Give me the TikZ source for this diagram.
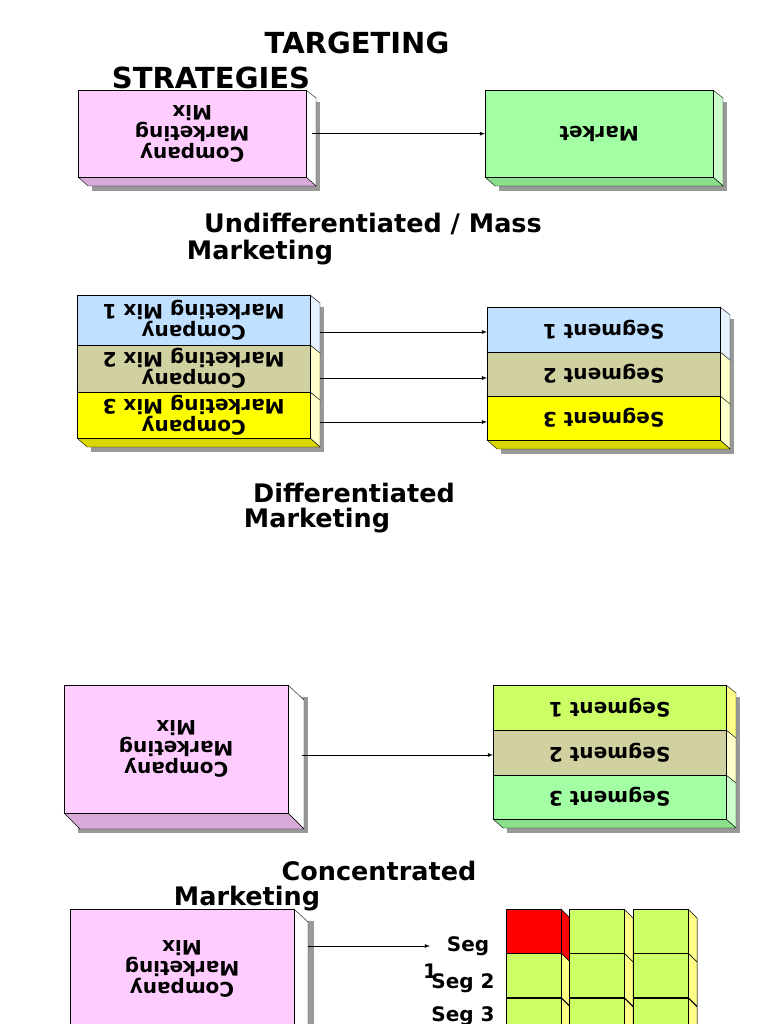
\documentclass[tikz,border=0pt]{standalone}
\usepackage{fontspec}
\setmainfont{DejaVu Sans}
\begin{document}
\begin{tikzpicture}[x=1pt,y=-1pt,
 lbl/.style={font=\bfseries\fontsize{20}{21}\selectfont,align=center,rotate=180},
 ttl/.style={font=\bfseries\fontsize{25.5}{28}\selectfont,anchor=center},
 big/.style={font=\bfseries\fontsize{29}{32}\selectfont,anchor=center},
 arr/.style={-latex,thick}]
\definecolor{pk}{HTML}{FFCCFF}\definecolor{pkd}{HTML}{D9A9D9}
\definecolor{gr}{HTML}{A3FFA3}\definecolor{grd}{HTML}{8AE08A}\definecolor{grs}{HTML}{CCFFCC}
\definecolor{bl}{HTML}{C0E0FF}\definecolor{bls}{HTML}{E6F2FF}
\definecolor{tn}{HTML}{D0D0A0}\definecolor{tns}{HTML}{FFFFCC}
\definecolor{yl}{HTML}{FFFF00}\definecolor{yld}{HTML}{D8D800}
\definecolor{lg}{HTML}{CCFF66}\definecolor{lgs}{HTML}{FFFF88}
\newcommand\shd[4]{\fill[gray!80] (#1+14,#2+12) rectangle (#3+14,#4+14);}
\newcommand\bx[9]{% name x1 y1 x2 y2 front side bottom text
 \draw[fill=#7] (#4,#3)--(#4+10,#3+8)--(#4+10,#5+9)--(#4,#5)--cycle;
 \draw[fill=#8] (#2,#5)--(#4,#5)--(#4+10,#5+9)--(#2+10,#5+9)--cycle;
 \node[draw,fill=#6,minimum width=#4-#2,minimum height=#5-#3,anchor=north west,inner sep=0] (#1) at (#2,#3) {};
 \node[lbl] at (#1.center) {#9};}
\useasboundingbox (0,0) rectangle (768,1024);
\node[big] at (357,43) {TARGETING};
\node[big] at (211,78) {STRATEGIES};
\shd{78}{90}{306}{177}
\bx{m1}{78}{90}{306}{177}{pk}{white}{pkd}{Company\\Marketing\\Mix}
\shd{485}{90}{713}{177}
\bx{k1}{485}{90}{713}{177}{gr}{grs}{grd}{Market}
\draw[arr] (m1.east)++(6,0) -- (k1.west);
\node[ttl] at (373,224) {Undifferentiated / Mass};
\node[ttl] at (260,253) {Marketing};
% differentiated
\shd{77}{295}{310}{438}
\shd{487}{307}{720}{440}
\bx{a1}{77}{295}{310}{345}{bl}{bls}{bl}{Company\\Marketing Mix 1}
\bx{a2}{77}{345}{310}{392}{tn}{tns}{tn}{Company\\Marketing Mix 2}
\bx{a3}{77}{392}{310}{438}{yl}{tns}{yld}{Company\\Marketing Mix 3}
\bx{s1}{487}{307}{720}{352}{bl}{bls}{bl}{Segment 1}
\bx{s2}{487}{352}{720}{396}{tn}{tns}{tn}{Segment 2}
\bx{s3}{487}{396}{720}{440}{yl}{tns}{yld}{Segment 3}
\draw[arr] (320,332) -- (s1.west|-0,332);
\draw[arr] (320,378) -- (s2.west|-0,378);
\draw[arr] (320,422) -- (s3.west|-0,422);
\node[ttl] at (354,493) {Differentiated};
\node[ttl] at (317,521) {Marketing};
% concentrated
\fill[gray!80] (78,697)--(308,697)--(308,833)--(78,833)--cycle;
\draw[fill=white] (288,685)--(304,700)--(304,829)--(288,813)--cycle;
\draw[fill=pkd] (64,813)--(288,813)--(304,829)--(80,829)--cycle;
\node[draw,fill=pk,minimum width=224,minimum height=128,anchor=north west,inner sep=0] (m3) at (64,685) {};
\node[lbl] at (m3.center) {Company\\Marketing\\Mix};
\shd{493}{685}{726}{819}
\bx{c1}{493}{685}{726}{730}{lg}{lgs}{lg}{Segment 1}
\bx{c2}{493}{730}{726}{775}{tn}{tns}{tn}{Segment 2}
\bx{c3}{493}{775}{726}{819}{gr}{grs}{grd}{Segment 3}
\draw[arr] (302,755) -- (c2.west|-0,755);
\node[ttl] at (379,871) {Concentrated};
\node[ttl] at (247,899) {Marketing};
% last
\fill[gray!80] (84,921)--(314,921)--(314,1024)--(84,1024)--cycle;
\draw[fill=white] (294,909)--(308,922)--(308,1030)--(294,1030)--cycle;
\node[draw,fill=pk,minimum width=224,minimum height=130,anchor=north west,inner sep=0] (m4) at (70,909) {};
\node[lbl] at (182,969) {Company\\Marketing\\Mix};
\coordinate (t4) at (430,946);
\draw[arr] (308,946) -- (t4);
\begin{scope}[font=\bfseries\fontsize{20}{22}\selectfont]
\node at (468,946) {Seg};
\node at (430,971) {1};
\node at (463,983) {Seg 2};
\node at (463,1016) {Seg 3};
\end{scope}
\fill[gray!80] (692,918) rectangle (698,1030);
\foreach \c/\x in {0/506,1/569,2/633}{
 \foreach \r/\y in {0/909,1/953,2/998}{
  \ifnum\c\r=00 \def\fc{red}\def\sc{red}\else\def\fc{lg}\def\sc{lgs}\fi
  \draw[fill=\sc] (\x+55,\y)--(\x+64,\y+9)--(\x+64,\y+53)--(\x+55,\y+44)--cycle;
  \draw[fill=\fc] (\x,\y) rectangle (\x+55,\y+44);
 }}
\end{tikzpicture}
\end{document}
